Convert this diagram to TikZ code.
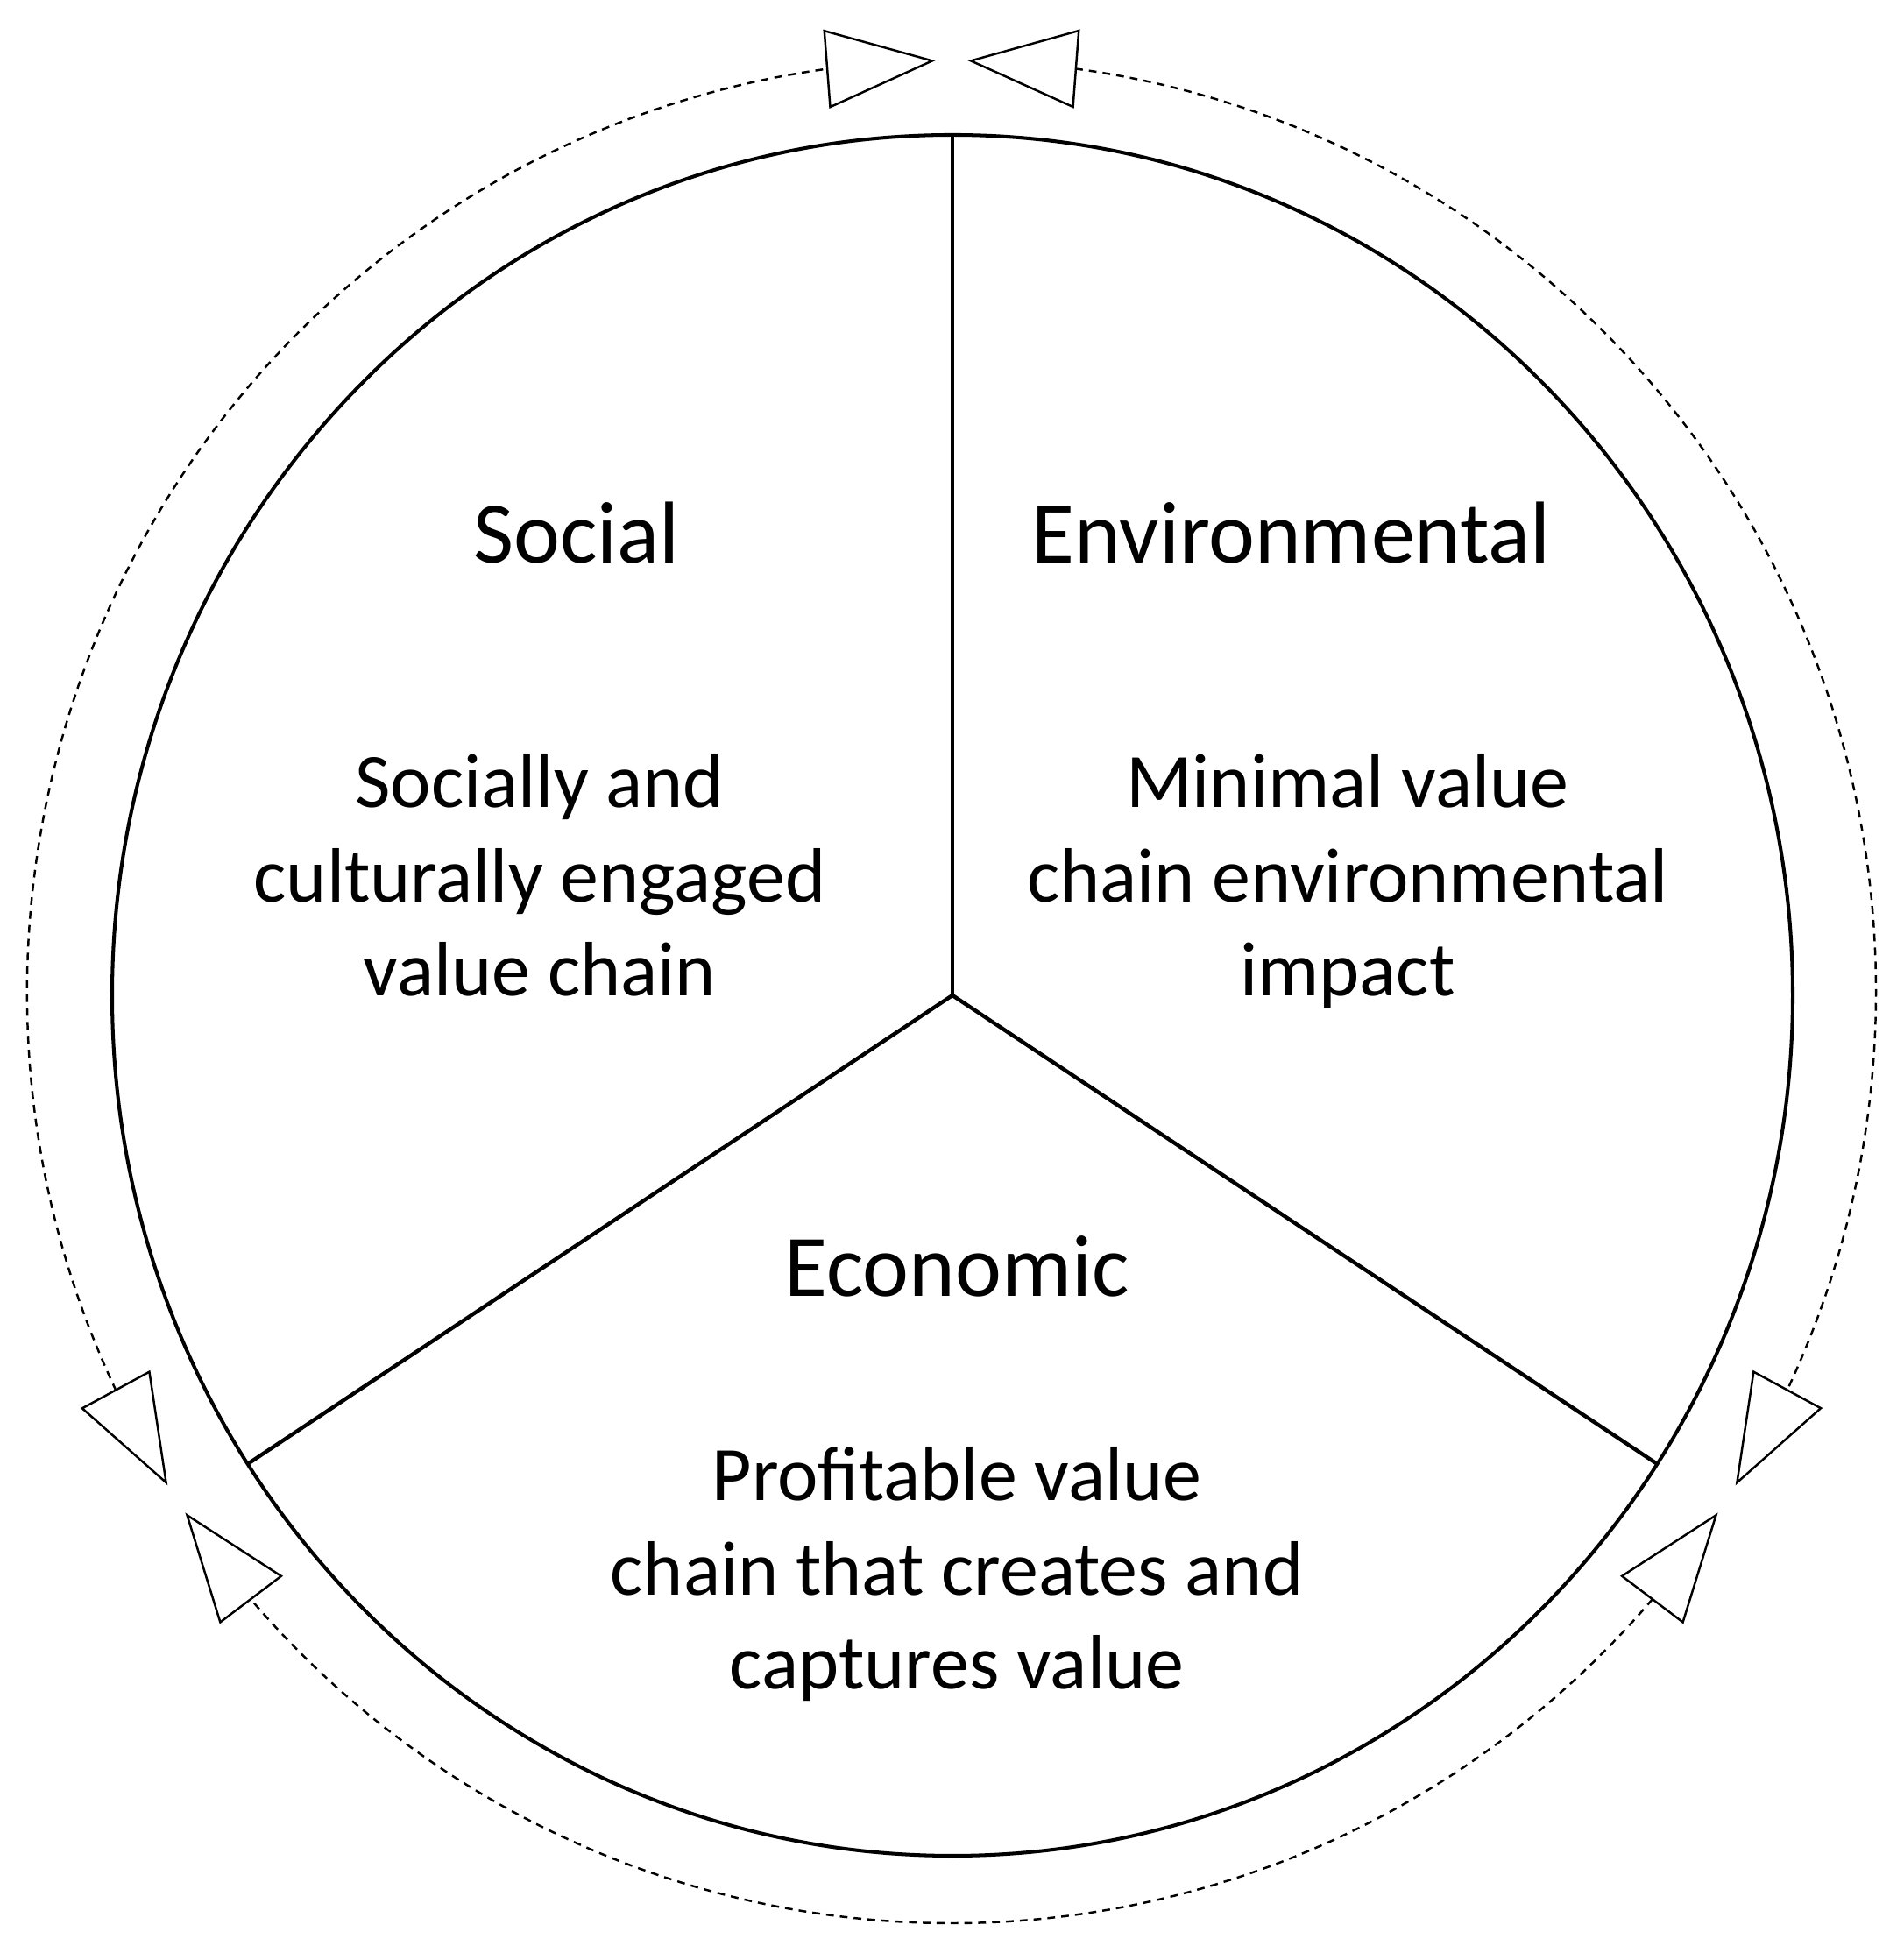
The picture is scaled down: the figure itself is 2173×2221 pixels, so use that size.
\documentclass[tikz,border=0pt]{standalone}
\usepackage{fontspec}
\setmainfont{Carlito}
\usetikzlibrary{arrows.meta,bending}
\tikzset{
  rim/.style={black, line width=1.15pt},
  spoke/.style={black, line width=1.25pt},
  cycleline/.style={black, line width=0.7pt, dash pattern=on 2.5pt off 2pt,
    arrows={Triangle[open,length=1.25cm,width=0.9cm]-Triangle[open,length=1.25cm,width=0.9cm]}},
  head/.style={font=\fontsize{28.5}{34}\selectfont, anchor=base, inner sep=0pt},
  body/.style={font=\fontsize{25}{30.7}\selectfont, align=center, anchor=base, inner sep=0pt},
}
\begin{document}
\begin{tikzpicture}[x=0.01cm,y=0.01cm]
\useasboundingbox (0,0) rectangle (2173,2221);
\coordinate (hub) at (1087,1085);
\coordinate (ring) at (1086,1089);
% outer dashed cycle, three arcs
\foreach \a/\b in {212/91, 89/-32, -34/-146}
  \draw[cycleline] (ring) ++(\a:1055 and 1063) arc[start angle=\a, end angle=\b, x radius=1055, y radius=1063];
% circle and spokes
\draw[rim] (hub) ellipse[x radius=959, y radius=982];
\foreach \t [count=\i] in {90,213,327} {
  \path (hub) ++(\t:959 and 982) coordinate (s\i);
  \draw[spoke] (hub) -- (s\i);
}
% sectors (base = last line)
\node[head] (soc) at (658,1578) {Social};
\node[head] (env) at (1474,1578) {Environmental};
\node[head] (eco) at (1092,741) {Economic};
\node[body] (soct) at (616,1084) {Socially and\\culturally engaged\\value chain};
\node[body] (envt) at (1538,1084) {Minimal value\\chain environmental\\impact};
\node[body] (ecot) at (1092,293) {Profitable value\\chain that creates and\\captures value};
\end{tikzpicture}
\end{document}
